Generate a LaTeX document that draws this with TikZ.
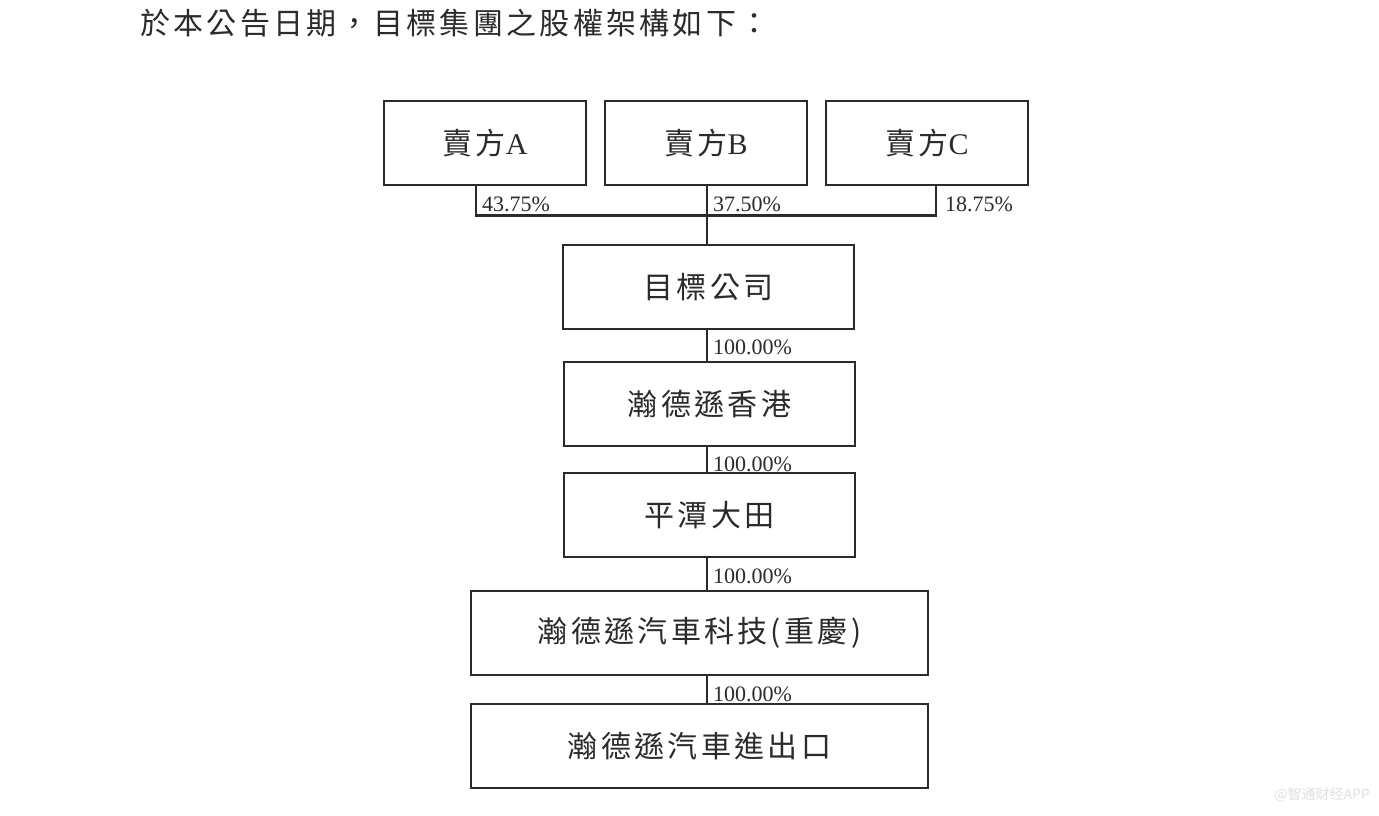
\documentclass[tikz,border=0pt]{standalone}
\usepackage{fontspec}
\setmainfont{Liberation Serif}
\newfontfamily\cjk[LetterSpace=11]{Noto Sans CJK TC}
\newfontfamily\cjksc{Noto Sans CJK SC}
\definecolor{ink}{HTML}{2B2B2B}
\begin{document}
\begin{tikzpicture}[x=1pt,y=-1pt,
  box/.style={draw=ink,line width=1.4pt,minimum height=84pt,inner sep=0pt,text=ink,font=\fontsize{30}{33}\selectfont},
  smallbox/.style={box,minimum width=202pt},
  midbox/.style={box,minimum width=291pt},
  widebox/.style={box,minimum width=457pt},
  pct/.style={anchor=west,inner sep=0pt,text=ink,font=\fontsize{22}{25}\selectfont},
  link/.style={draw=ink,line width=1.1pt},
  bracket/.style={draw=ink,line width=2.6pt}]
\useasboundingbox (0,0) rectangle (1379,815);
\fill[white] (0,0) rectangle (1379,815);
\node[anchor=west,inner sep=0pt,text=ink,font=\fontsize{30}{33}\selectfont] (title) at (140,23) {\cjk 於本公告日期，目標集團之股權架構如下：};
\node[smallbox] (A) at (485,143) {{\cjk 賣方}A};
\node[smallbox] (B) at (706,143) {{\cjk 賣方}B};
\node[smallbox] (C) at (927,143) {{\cjk 賣方}C};
\node[midbox] (T) at (708.5,287) {\cjk 目標公司};
\node[midbox] (HK) at (709.5,404) {\cjk 瀚德遜香港};
\node[midbox] (PT) at (709.5,515) {\cjk 平潭大田};
\node[widebox] (CQ) at (699.5,633) {\cjk 瀚德遜汽車科技(重慶)};
\node[widebox] (IE) at (699.5,746) {\cjk 瀚德遜汽車進出口};
\coordinate (spine) at (707,0);
\draw[bracket] ([xshift=-9pt]A.south) -- ++(0,30) -| ([xshift=9pt]C.south);
\draw[link] (B.south -| spine) -- (T.north -| spine);
\draw[link] (T.south -| spine) -- (HK.north -| spine);
\draw[link] (HK.south -| spine) -- (PT.north -| spine);
\draw[link] (PT.south -| spine) -- (CQ.north -| spine);
\draw[link] (CQ.south -| spine) -- (IE.north -| spine);
\node[pct] (pa) at (482,204) {43.75\%};
\node[pct] (pb) at (713,204) {37.50\%};
\node[pct] (pc) at (945,204) {18.75\%};
\node[pct] (p1) at (713,347) {100.00\%};
\node[pct] (p2) at (713,464) {100.00\%};
\node[pct] (p3) at (713,576) {100.00\%};
\node[pct] (p4) at (713,694) {100.00\%};
\node[anchor=east,inner sep=0pt,text=black!12,font=\cjksc\fontsize{14}{16}\selectfont] (wm) at (1370,795) {@智通财经APP};
\end{tikzpicture}
\end{document}
